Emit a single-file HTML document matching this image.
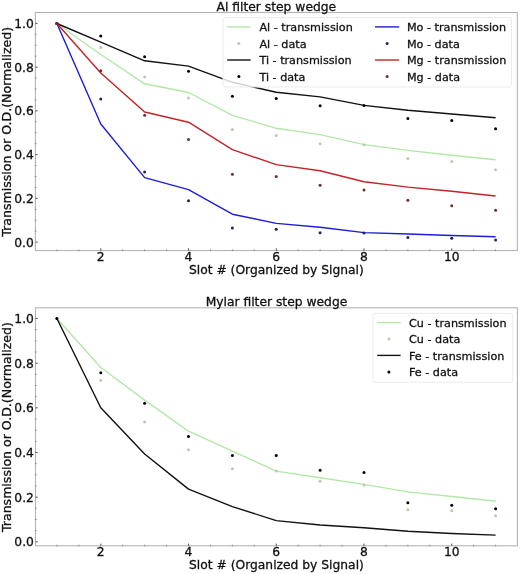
<!DOCTYPE html>
<html><head><meta charset="utf-8"><title>Filter step wedge</title>
<style>html,body{margin:0;padding:0;background:#fff;width:520px;height:574px;overflow:hidden}svg{display:block;filter:blur(0.35px)}text{stroke:#111;stroke-width:0.3px}</style>
</head><body>
<svg width="520" height="574" viewBox="0 0 520 574" font-family="&quot;DejaVu Sans&quot;, &quot;Liberation Sans&quot;, sans-serif" fill="#111">
<rect width="520" height="574" fill="#fff"/>
<rect x="35.4" y="12.5" width="481.90" height="238.00" fill="none" stroke="#b4b4b4" stroke-width="1.1"/>
<line x1="35.4" y1="242.10" x2="37.6" y2="242.10" stroke="#555" stroke-width="1"/>
<text x="33.80" y="246.55" text-anchor="end" font-size="12.3">0.0</text>
<line x1="34.6" y1="231.16" x2="36.6" y2="231.16" stroke="#888" stroke-width="0.8"/>
<line x1="34.6" y1="220.22" x2="36.6" y2="220.22" stroke="#888" stroke-width="0.8"/>
<line x1="34.6" y1="209.29" x2="36.6" y2="209.29" stroke="#888" stroke-width="0.8"/>
<line x1="35.4" y1="198.35" x2="37.6" y2="198.35" stroke="#555" stroke-width="1"/>
<text x="33.80" y="202.80" text-anchor="end" font-size="12.3">0.2</text>
<line x1="34.6" y1="187.41" x2="36.6" y2="187.41" stroke="#888" stroke-width="0.8"/>
<line x1="34.6" y1="176.47" x2="36.6" y2="176.47" stroke="#888" stroke-width="0.8"/>
<line x1="34.6" y1="165.54" x2="36.6" y2="165.54" stroke="#888" stroke-width="0.8"/>
<line x1="35.4" y1="154.60" x2="37.6" y2="154.60" stroke="#555" stroke-width="1"/>
<text x="33.80" y="159.05" text-anchor="end" font-size="12.3">0.4</text>
<line x1="34.6" y1="143.66" x2="36.6" y2="143.66" stroke="#888" stroke-width="0.8"/>
<line x1="34.6" y1="132.72" x2="36.6" y2="132.72" stroke="#888" stroke-width="0.8"/>
<line x1="34.6" y1="121.79" x2="36.6" y2="121.79" stroke="#888" stroke-width="0.8"/>
<line x1="35.4" y1="110.85" x2="37.6" y2="110.85" stroke="#555" stroke-width="1"/>
<text x="33.80" y="115.30" text-anchor="end" font-size="12.3">0.6</text>
<line x1="34.6" y1="99.91" x2="36.6" y2="99.91" stroke="#888" stroke-width="0.8"/>
<line x1="34.6" y1="88.97" x2="36.6" y2="88.97" stroke="#888" stroke-width="0.8"/>
<line x1="34.6" y1="78.04" x2="36.6" y2="78.04" stroke="#888" stroke-width="0.8"/>
<line x1="35.4" y1="67.10" x2="37.6" y2="67.10" stroke="#555" stroke-width="1"/>
<text x="33.80" y="71.55" text-anchor="end" font-size="12.3">0.8</text>
<line x1="34.6" y1="56.16" x2="36.6" y2="56.16" stroke="#888" stroke-width="0.8"/>
<line x1="34.6" y1="45.22" x2="36.6" y2="45.22" stroke="#888" stroke-width="0.8"/>
<line x1="34.6" y1="34.29" x2="36.6" y2="34.29" stroke="#888" stroke-width="0.8"/>
<line x1="35.4" y1="23.35" x2="37.6" y2="23.35" stroke="#555" stroke-width="1"/>
<text x="33.80" y="27.80" text-anchor="end" font-size="12.3">1.0</text>
<line x1="56.90" y1="251.3" x2="56.90" y2="249.3" stroke="#888" stroke-width="0.8"/>
<line x1="78.83" y1="251.3" x2="78.83" y2="249.3" stroke="#888" stroke-width="0.8"/>
<line x1="100.77" y1="250.5" x2="100.77" y2="248.3" stroke="#555" stroke-width="1"/>
<text x="100.77" y="261.10" text-anchor="middle" font-size="12.3">2</text>
<line x1="122.70" y1="251.3" x2="122.70" y2="249.3" stroke="#888" stroke-width="0.8"/>
<line x1="144.64" y1="251.3" x2="144.64" y2="249.3" stroke="#888" stroke-width="0.8"/>
<line x1="166.57" y1="251.3" x2="166.57" y2="249.3" stroke="#888" stroke-width="0.8"/>
<line x1="188.51" y1="250.5" x2="188.51" y2="248.3" stroke="#555" stroke-width="1"/>
<text x="188.51" y="261.10" text-anchor="middle" font-size="12.3">4</text>
<line x1="210.44" y1="251.3" x2="210.44" y2="249.3" stroke="#888" stroke-width="0.8"/>
<line x1="232.38" y1="251.3" x2="232.38" y2="249.3" stroke="#888" stroke-width="0.8"/>
<line x1="254.31" y1="251.3" x2="254.31" y2="249.3" stroke="#888" stroke-width="0.8"/>
<line x1="276.25" y1="250.5" x2="276.25" y2="248.3" stroke="#555" stroke-width="1"/>
<text x="276.25" y="261.10" text-anchor="middle" font-size="12.3">6</text>
<line x1="298.19" y1="251.3" x2="298.19" y2="249.3" stroke="#888" stroke-width="0.8"/>
<line x1="320.12" y1="251.3" x2="320.12" y2="249.3" stroke="#888" stroke-width="0.8"/>
<line x1="342.05" y1="251.3" x2="342.05" y2="249.3" stroke="#888" stroke-width="0.8"/>
<line x1="363.99" y1="250.5" x2="363.99" y2="248.3" stroke="#555" stroke-width="1"/>
<text x="363.99" y="261.10" text-anchor="middle" font-size="12.3">8</text>
<line x1="385.92" y1="251.3" x2="385.92" y2="249.3" stroke="#888" stroke-width="0.8"/>
<line x1="407.86" y1="251.3" x2="407.86" y2="249.3" stroke="#888" stroke-width="0.8"/>
<line x1="429.79" y1="251.3" x2="429.79" y2="249.3" stroke="#888" stroke-width="0.8"/>
<line x1="451.73" y1="250.5" x2="451.73" y2="248.3" stroke="#555" stroke-width="1"/>
<text x="451.73" y="261.10" text-anchor="middle" font-size="12.3">10</text>
<line x1="473.66" y1="251.3" x2="473.66" y2="249.3" stroke="#888" stroke-width="0.8"/>
<line x1="495.60" y1="251.3" x2="495.60" y2="249.3" stroke="#888" stroke-width="0.8"/>
<text x="276.35" y="10.80" text-anchor="middle" font-size="12.3">Al filter step wedge</text>
<text x="276.35" y="273.60" text-anchor="middle" font-size="12.3">Slot # (Organized by Signal)</text>
<text transform="translate(11.0,131.80) rotate(-90)" text-anchor="middle" font-size="12.55">Transmission or O.D.(Normalized)</text>
<polyline points="56.90,23.50 100.77,54.50 144.64,83.80 188.51,92.50 232.38,115.30 276.25,128.30 320.12,134.60 363.99,144.60 407.86,150.40 451.73,155.30 495.60,159.70" fill="none" stroke="#b2e8a6" stroke-width="1.4" stroke-linejoin="round" stroke-linecap="butt" stroke-opacity="1"/>
<circle cx="56.90" cy="23.50" r="1.5" fill="#c2c6ae"/>
<circle cx="100.77" cy="47.40" r="1.5" fill="#c2c6ae"/>
<circle cx="144.64" cy="76.90" r="1.5" fill="#c2c6ae"/>
<circle cx="188.51" cy="98.00" r="1.5" fill="#c2c6ae"/>
<circle cx="232.38" cy="129.60" r="1.5" fill="#c2c6ae"/>
<circle cx="276.25" cy="135.40" r="1.5" fill="#c2c6ae"/>
<circle cx="320.12" cy="143.80" r="1.5" fill="#c2c6ae"/>
<circle cx="363.99" cy="144.80" r="1.5" fill="#c2c6ae"/>
<circle cx="407.86" cy="158.50" r="1.5" fill="#c2c6ae"/>
<circle cx="451.73" cy="161.60" r="1.5" fill="#c2c6ae"/>
<circle cx="495.60" cy="169.70" r="1.5" fill="#c2c6ae"/>
<polyline points="56.90,23.50 100.77,42.20 144.64,60.80 188.51,66.10 232.38,82.30 276.25,92.30 320.12,96.90 363.99,105.40 407.86,110.20 451.73,114.00 495.60,117.80" fill="none" stroke="#111111" stroke-width="1.4" stroke-linejoin="round" stroke-linecap="butt" stroke-opacity="1"/>
<circle cx="56.90" cy="23.50" r="1.5" fill="#000000"/>
<circle cx="100.77" cy="36.00" r="1.5" fill="#000000"/>
<circle cx="144.64" cy="56.80" r="1.5" fill="#000000"/>
<circle cx="188.51" cy="71.20" r="1.5" fill="#000000"/>
<circle cx="232.38" cy="96.20" r="1.5" fill="#000000"/>
<circle cx="276.25" cy="98.50" r="1.5" fill="#000000"/>
<circle cx="320.12" cy="105.70" r="1.5" fill="#000000"/>
<circle cx="363.99" cy="105.40" r="1.5" fill="#000000"/>
<circle cx="407.86" cy="118.50" r="1.5" fill="#000000"/>
<circle cx="451.73" cy="120.60" r="1.5" fill="#000000"/>
<circle cx="495.60" cy="128.80" r="1.5" fill="#000000"/>
<polyline points="56.90,23.50 100.77,124.00 144.64,177.60 188.51,189.70 232.38,214.20 276.25,223.40 320.12,227.30 363.99,232.60 407.86,234.00 451.73,235.50 495.60,236.80" fill="none" stroke="#1d1dd6" stroke-width="1.4" stroke-linejoin="round" stroke-linecap="butt" stroke-opacity="1"/>
<circle cx="56.90" cy="23.50" r="1.5" fill="#22225a"/>
<circle cx="100.77" cy="99.00" r="1.5" fill="#22225a"/>
<circle cx="144.64" cy="172.10" r="1.5" fill="#22225a"/>
<circle cx="188.51" cy="200.80" r="1.5" fill="#22225a"/>
<circle cx="232.38" cy="228.00" r="1.5" fill="#22225a"/>
<circle cx="276.25" cy="229.20" r="1.5" fill="#22225a"/>
<circle cx="320.12" cy="232.80" r="1.5" fill="#22225a"/>
<circle cx="363.99" cy="233.00" r="1.5" fill="#22225a"/>
<circle cx="407.86" cy="237.60" r="1.5" fill="#22225a"/>
<circle cx="451.73" cy="238.30" r="1.5" fill="#22225a"/>
<circle cx="495.60" cy="240.00" r="1.5" fill="#22225a"/>
<polyline points="56.90,23.50 100.77,73.00 144.64,112.00 188.51,122.20 232.38,149.70 276.25,164.60 320.12,170.70 363.99,181.80 407.86,187.10 451.73,191.30 495.60,196.00" fill="none" stroke="#c42328" stroke-width="1.4" stroke-linejoin="round" stroke-linecap="butt" stroke-opacity="1"/>
<circle cx="56.90" cy="23.50" r="1.5" fill="#6e2e2e"/>
<circle cx="100.77" cy="70.80" r="1.5" fill="#6e2e2e"/>
<circle cx="144.64" cy="115.30" r="1.5" fill="#6e2e2e"/>
<circle cx="188.51" cy="139.50" r="1.5" fill="#6e2e2e"/>
<circle cx="232.38" cy="174.30" r="1.5" fill="#6e2e2e"/>
<circle cx="276.25" cy="176.50" r="1.5" fill="#6e2e2e"/>
<circle cx="320.12" cy="185.30" r="1.5" fill="#6e2e2e"/>
<circle cx="363.99" cy="190.00" r="1.5" fill="#6e2e2e"/>
<circle cx="407.86" cy="200.20" r="1.5" fill="#6e2e2e"/>
<circle cx="451.73" cy="205.70" r="1.5" fill="#6e2e2e"/>
<circle cx="495.60" cy="210.30" r="1.5" fill="#6e2e2e"/>
<rect x="223.0" y="17.6" width="288.50" height="69.40" rx="2.2" fill="#fff" fill-opacity="0.8" stroke="#ebebeb" stroke-width="1"/>
<line x1="227.2" y1="26.9" x2="250.6" y2="26.9" stroke="#b2e8a6" stroke-width="1.4"/>
<text x="259.4" y="31.00" font-size="11.2">Al - transmission</text>
<circle cx="238.90" cy="43.5" r="1.5" fill="#c2c6ae"/>
<text x="259.4" y="47.60" font-size="11.2">Al - data</text>
<line x1="227.2" y1="60.0" x2="250.6" y2="60.0" stroke="#111111" stroke-width="1.4"/>
<text x="259.4" y="64.10" font-size="11.2">Ti - transmission</text>
<circle cx="238.90" cy="76.6" r="1.5" fill="#000000"/>
<text x="259.4" y="80.70" font-size="11.2">Ti - data</text>
<line x1="375.0" y1="26.9" x2="399.2" y2="26.9" stroke="#1d1dd6" stroke-width="1.4"/>
<text x="406.9" y="31.00" font-size="11.2">Mo - transmission</text>
<circle cx="387.10" cy="43.5" r="1.5" fill="#22225a"/>
<text x="406.9" y="47.60" font-size="11.2">Mo - data</text>
<line x1="375.0" y1="60.0" x2="399.2" y2="60.0" stroke="#c42328" stroke-width="1.4"/>
<text x="406.9" y="64.10" font-size="11.2">Mg - transmission</text>
<circle cx="387.10" cy="76.6" r="1.5" fill="#6e2e2e"/>
<text x="406.9" y="80.70" font-size="11.2">Mg - data</text>
<rect x="35.5" y="307.8" width="481.90" height="238.00" fill="none" stroke="#b4b4b4" stroke-width="1.1"/>
<line x1="35.5" y1="541.80" x2="37.7" y2="541.80" stroke="#555" stroke-width="1"/>
<text x="33.90" y="546.25" text-anchor="end" font-size="12.3">0.0</text>
<line x1="34.7" y1="530.63" x2="36.7" y2="530.63" stroke="#888" stroke-width="0.8"/>
<line x1="34.7" y1="519.47" x2="36.7" y2="519.47" stroke="#888" stroke-width="0.8"/>
<line x1="34.7" y1="508.30" x2="36.7" y2="508.30" stroke="#888" stroke-width="0.8"/>
<line x1="35.5" y1="497.14" x2="37.7" y2="497.14" stroke="#555" stroke-width="1"/>
<text x="33.90" y="501.59" text-anchor="end" font-size="12.3">0.2</text>
<line x1="34.7" y1="485.97" x2="36.7" y2="485.97" stroke="#888" stroke-width="0.8"/>
<line x1="34.7" y1="474.81" x2="36.7" y2="474.81" stroke="#888" stroke-width="0.8"/>
<line x1="34.7" y1="463.64" x2="36.7" y2="463.64" stroke="#888" stroke-width="0.8"/>
<line x1="35.5" y1="452.48" x2="37.7" y2="452.48" stroke="#555" stroke-width="1"/>
<text x="33.90" y="456.93" text-anchor="end" font-size="12.3">0.4</text>
<line x1="34.7" y1="441.31" x2="36.7" y2="441.31" stroke="#888" stroke-width="0.8"/>
<line x1="34.7" y1="430.15" x2="36.7" y2="430.15" stroke="#888" stroke-width="0.8"/>
<line x1="34.7" y1="418.98" x2="36.7" y2="418.98" stroke="#888" stroke-width="0.8"/>
<line x1="35.5" y1="407.82" x2="37.7" y2="407.82" stroke="#555" stroke-width="1"/>
<text x="33.90" y="412.27" text-anchor="end" font-size="12.3">0.6</text>
<line x1="34.7" y1="396.65" x2="36.7" y2="396.65" stroke="#888" stroke-width="0.8"/>
<line x1="34.7" y1="385.49" x2="36.7" y2="385.49" stroke="#888" stroke-width="0.8"/>
<line x1="34.7" y1="374.32" x2="36.7" y2="374.32" stroke="#888" stroke-width="0.8"/>
<line x1="35.5" y1="363.16" x2="37.7" y2="363.16" stroke="#555" stroke-width="1"/>
<text x="33.90" y="367.61" text-anchor="end" font-size="12.3">0.8</text>
<line x1="34.7" y1="352.00" x2="36.7" y2="352.00" stroke="#888" stroke-width="0.8"/>
<line x1="34.7" y1="340.83" x2="36.7" y2="340.83" stroke="#888" stroke-width="0.8"/>
<line x1="34.7" y1="329.66" x2="36.7" y2="329.66" stroke="#888" stroke-width="0.8"/>
<line x1="35.5" y1="318.50" x2="37.7" y2="318.50" stroke="#555" stroke-width="1"/>
<text x="33.90" y="322.95" text-anchor="end" font-size="12.3">1.0</text>
<line x1="56.90" y1="546.5999999999999" x2="56.90" y2="544.5999999999999" stroke="#888" stroke-width="0.8"/>
<line x1="78.83" y1="546.5999999999999" x2="78.83" y2="544.5999999999999" stroke="#888" stroke-width="0.8"/>
<line x1="100.77" y1="545.8" x2="100.77" y2="543.5999999999999" stroke="#555" stroke-width="1"/>
<text x="100.77" y="556.40" text-anchor="middle" font-size="12.3">2</text>
<line x1="122.70" y1="546.5999999999999" x2="122.70" y2="544.5999999999999" stroke="#888" stroke-width="0.8"/>
<line x1="144.64" y1="546.5999999999999" x2="144.64" y2="544.5999999999999" stroke="#888" stroke-width="0.8"/>
<line x1="166.57" y1="546.5999999999999" x2="166.57" y2="544.5999999999999" stroke="#888" stroke-width="0.8"/>
<line x1="188.51" y1="545.8" x2="188.51" y2="543.5999999999999" stroke="#555" stroke-width="1"/>
<text x="188.51" y="556.40" text-anchor="middle" font-size="12.3">4</text>
<line x1="210.44" y1="546.5999999999999" x2="210.44" y2="544.5999999999999" stroke="#888" stroke-width="0.8"/>
<line x1="232.38" y1="546.5999999999999" x2="232.38" y2="544.5999999999999" stroke="#888" stroke-width="0.8"/>
<line x1="254.31" y1="546.5999999999999" x2="254.31" y2="544.5999999999999" stroke="#888" stroke-width="0.8"/>
<line x1="276.25" y1="545.8" x2="276.25" y2="543.5999999999999" stroke="#555" stroke-width="1"/>
<text x="276.25" y="556.40" text-anchor="middle" font-size="12.3">6</text>
<line x1="298.19" y1="546.5999999999999" x2="298.19" y2="544.5999999999999" stroke="#888" stroke-width="0.8"/>
<line x1="320.12" y1="546.5999999999999" x2="320.12" y2="544.5999999999999" stroke="#888" stroke-width="0.8"/>
<line x1="342.05" y1="546.5999999999999" x2="342.05" y2="544.5999999999999" stroke="#888" stroke-width="0.8"/>
<line x1="363.99" y1="545.8" x2="363.99" y2="543.5999999999999" stroke="#555" stroke-width="1"/>
<text x="363.99" y="556.40" text-anchor="middle" font-size="12.3">8</text>
<line x1="385.92" y1="546.5999999999999" x2="385.92" y2="544.5999999999999" stroke="#888" stroke-width="0.8"/>
<line x1="407.86" y1="546.5999999999999" x2="407.86" y2="544.5999999999999" stroke="#888" stroke-width="0.8"/>
<line x1="429.79" y1="546.5999999999999" x2="429.79" y2="544.5999999999999" stroke="#888" stroke-width="0.8"/>
<line x1="451.73" y1="545.8" x2="451.73" y2="543.5999999999999" stroke="#555" stroke-width="1"/>
<text x="451.73" y="556.40" text-anchor="middle" font-size="12.3">10</text>
<line x1="473.66" y1="546.5999999999999" x2="473.66" y2="544.5999999999999" stroke="#888" stroke-width="0.8"/>
<line x1="495.60" y1="546.5999999999999" x2="495.60" y2="544.5999999999999" stroke="#888" stroke-width="0.8"/>
<text x="276.45" y="306.10" text-anchor="middle" font-size="12.3">Mylar filter step wedge</text>
<text x="276.45" y="569.25" text-anchor="middle" font-size="12.3">Slot # (Organized by Signal)</text>
<text transform="translate(11.0,427.10) rotate(-90)" text-anchor="middle" font-size="12.55">Transmission or O.D.(Normalized)</text>
<polyline points="56.90,318.50 100.77,367.50 144.64,400.10 188.51,431.20 232.38,451.20 276.25,471.10 320.12,477.70 363.99,484.40 407.86,491.90 451.73,496.50 495.60,501.20" fill="none" stroke="#b2e8a6" stroke-width="1.4" stroke-linejoin="round" stroke-linecap="butt" stroke-opacity="1"/>
<circle cx="56.90" cy="318.50" r="1.5" fill="#c2c6ae"/>
<circle cx="100.77" cy="380.20" r="1.5" fill="#c2c6ae"/>
<circle cx="144.64" cy="421.90" r="1.5" fill="#c2c6ae"/>
<circle cx="188.51" cy="449.70" r="1.5" fill="#c2c6ae"/>
<circle cx="232.38" cy="468.70" r="1.5" fill="#c2c6ae"/>
<circle cx="276.25" cy="471.00" r="1.5" fill="#c2c6ae"/>
<circle cx="320.12" cy="481.30" r="1.5" fill="#c2c6ae"/>
<circle cx="363.99" cy="485.10" r="1.5" fill="#c2c6ae"/>
<circle cx="407.86" cy="509.70" r="1.5" fill="#c2c6ae"/>
<circle cx="451.73" cy="510.80" r="1.5" fill="#c2c6ae"/>
<circle cx="495.60" cy="515.70" r="1.5" fill="#c2c6ae"/>
<polyline points="56.90,318.50 100.77,407.70 144.64,454.00 188.51,489.10 232.38,506.60 276.25,520.60 320.12,525.00 363.99,527.80 407.86,531.20 451.73,533.50 495.60,535.10" fill="none" stroke="#111111" stroke-width="1.4" stroke-linejoin="round" stroke-linecap="butt" stroke-opacity="1"/>
<circle cx="56.90" cy="318.50" r="1.5" fill="#000000"/>
<circle cx="100.77" cy="372.80" r="1.5" fill="#000000"/>
<circle cx="144.64" cy="403.20" r="1.5" fill="#000000"/>
<circle cx="188.51" cy="436.50" r="1.5" fill="#000000"/>
<circle cx="232.38" cy="455.40" r="1.5" fill="#000000"/>
<circle cx="276.25" cy="455.50" r="1.5" fill="#000000"/>
<circle cx="320.12" cy="470.30" r="1.5" fill="#000000"/>
<circle cx="363.99" cy="472.40" r="1.5" fill="#000000"/>
<circle cx="407.86" cy="502.80" r="1.5" fill="#000000"/>
<circle cx="451.73" cy="505.30" r="1.5" fill="#000000"/>
<circle cx="495.60" cy="508.80" r="1.5" fill="#000000"/>
<rect x="373.0" y="313.4" width="139.80" height="68.90" rx="2.2" fill="#fff" fill-opacity="0.8" stroke="#ebebeb" stroke-width="1"/>
<line x1="377.2" y1="322.6" x2="400.6" y2="322.6" stroke="#b2e8a6" stroke-width="1.4"/>
<text x="409.0" y="326.70" font-size="11.2">Cu - transmission</text>
<circle cx="388.90" cy="339.0" r="1.5" fill="#c2c6ae"/>
<text x="409.0" y="343.10" font-size="11.2">Cu - data</text>
<line x1="377.2" y1="355.4" x2="400.6" y2="355.4" stroke="#111111" stroke-width="1.4"/>
<text x="409.0" y="359.50" font-size="11.2">Fe - transmission</text>
<circle cx="388.90" cy="371.9" r="1.5" fill="#000000"/>
<text x="409.0" y="376.00" font-size="11.2">Fe - data</text>
</svg>
</body></html>
